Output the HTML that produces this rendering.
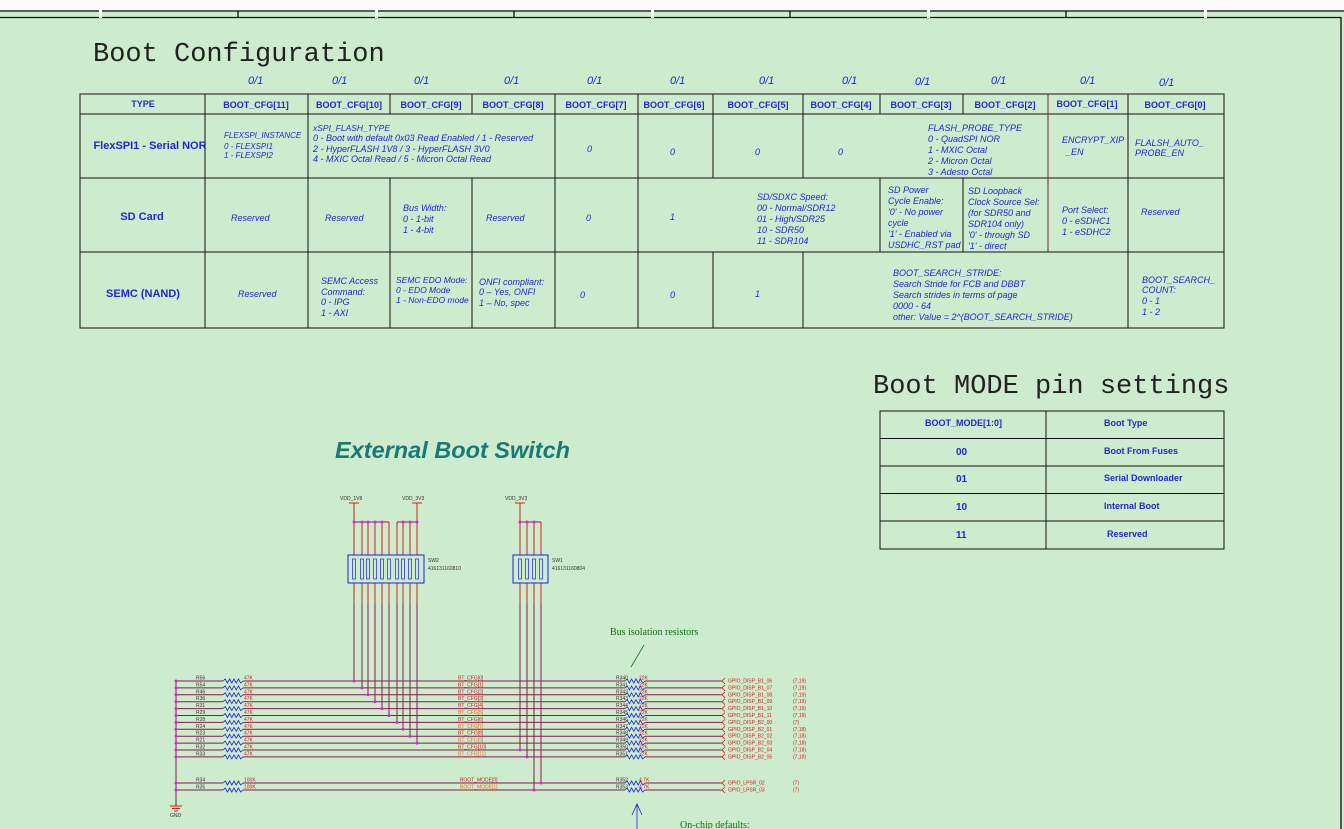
<!DOCTYPE html>
<html><head><meta charset="utf-8"><style>
html,body{margin:0;padding:0;background:#cdebcd;}
svg{display:block}
.h{font-family:"Liberation Sans",sans-serif;font-weight:bold;font-size:9px;fill:#2525d8}
.i{font-family:"Liberation Sans",sans-serif;font-style:italic;font-size:9px;fill:#2525d8}
.t{font-family:"Liberation Mono",monospace;font-size:27px;fill:#222}
.s{font-family:"Liberation Sans",sans-serif;font-size:5px;fill:#d02020}
.o{font-family:"Liberation Sans",sans-serif;font-size:5px;fill:#e07020}
.k{font-family:"Liberation Sans",sans-serif;font-size:5px;fill:#333}
</style></head><body>
<svg id="s" width="1344" height="829" xmlns="http://www.w3.org/2000/svg">
<rect x="0" y="0" width="1344" height="10" fill="#fafafa"/>
<g stroke="#111" stroke-width="1.3" fill="none">
<line x1="0" y1="11" x2="1344" y2="11"/><line x1="0" y1="17.5" x2="1341" y2="17.5"/><line x1="1341" y1="17" x2="1341" y2="829"/>
<line x1="238" y1="11" x2="238" y2="17"/><line x1="514" y1="11" x2="514" y2="17"/><line x1="790" y1="11" x2="790" y2="17"/><line x1="1066" y1="11" x2="1066" y2="17"/>
</g>
<g fill="#fff"><rect x="99" y="10" width="3" height="8"/><rect x="375" y="10" width="3" height="8"/><rect x="651" y="10" width="3" height="8"/><rect x="927" y="10" width="3" height="8"/><rect x="1204" y="10" width="3" height="8"/></g>
<text class="t" x="93" y="61">Boot Configuration</text>
<text class="t" x="873" y="393">Boot MODE pin settings</text>
<text x="335" y="458" font-family="Liberation Sans,sans-serif" font-weight="bold" font-style="italic" font-size="23.5" fill="#1a7878">External Boot Switch</text>
<!-- config table -->
<g stroke="#111" stroke-width="1" fill="none">
<rect x="80" y="94" width="1144" height="234"/>
<line x1="80" y1="114" x2="1224" y2="114"/><line x1="80" y1="178" x2="1224" y2="178"/><line x1="80" y1="252" x2="1224" y2="252"/>
<line x1="205" y1="94" x2="205" y2="328"/>
<line x1="308" y1="94" x2="308" y2="328"/>
<line x1="390" y1="94" x2="390" y2="114"/><line x1="390" y1="178" x2="390" y2="328"/>
<line x1="472" y1="94" x2="472" y2="114"/><line x1="472" y1="178" x2="472" y2="328"/>
<line x1="555" y1="94" x2="555" y2="328"/>
<line x1="638" y1="94" x2="638" y2="328"/>
<line x1="713" y1="94" x2="713" y2="178"/><line x1="713" y1="252" x2="713" y2="328"/>
<line x1="803" y1="94" x2="803" y2="178"/><line x1="803" y1="252" x2="803" y2="328"/>
<line x1="880" y1="94" x2="880" y2="114"/><line x1="880" y1="178" x2="880" y2="252"/>
<line x1="963" y1="94" x2="963" y2="114"/><line x1="963" y1="178" x2="963" y2="252"/>
<line x1="1048" y1="94" x2="1048" y2="252" stroke="#802030"/>
<line x1="1128" y1="94" x2="1128" y2="328"/>
</g>
<g>
<text x="248" y="84" class="i" style="font-size:11px">0/1</text><text x="332" y="84" class="i" style="font-size:11px">0/1</text><text x="414" y="84" class="i" style="font-size:11px">0/1</text><text x="504" y="84" class="i" style="font-size:11px">0/1</text><text x="587" y="84" class="i" style="font-size:11px">0/1</text><text x="670" y="84" class="i" style="font-size:11px">0/1</text><text x="759" y="84" class="i" style="font-size:11px">0/1</text><text x="842" y="84" class="i" style="font-size:11px">0/1</text><text x="915" y="85" class="i" style="font-size:11px">0/1</text><text x="991" y="84" class="i" style="font-size:11px">0/1</text><text x="1080" y="84" class="i" style="font-size:11px">0/1</text><text x="1159" y="86" class="i" style="font-size:11px">0/1</text>
</g>
<g class="h" text-anchor="middle">
<text x="143" y="107">TYPE</text><text x="256" y="108">BOOT_CFG[11]</text><text x="349" y="108">BOOT_CFG[10]</text><text x="431" y="108">BOOT_CFG[9]</text><text x="513" y="108">BOOT_CFG[8]</text><text x="596" y="108">BOOT_CFG[7]</text><text x="674" y="108">BOOT_CFG[6]</text><text x="758" y="108">BOOT_CFG[5]</text><text x="841" y="108">BOOT_CFG[4]</text><text x="921" y="108">BOOT_CFG[3]</text><text x="1005" y="108">BOOT_CFG[2]</text><text x="1087" y="107">BOOT_CFG[1]</text><text x="1175" y="108">BOOT_CFG[0]</text>
<text x="150" y="149" style="font-size:11px">FlexSPI1 - Serial NOR</text>
<text x="142" y="220" style="font-size:11px">SD Card</text>
<text x="143" y="297" style="font-size:11px">SEMC (NAND)</text>
</g>
<g class="i">
<text x="224" y="138" style="font-size:8px">FLEXSPI_INSTANCE</text><text x="224" y="149" style="font-size:8px">0 - FLEXSPI1</text><text x="224" y="158" style="font-size:8px">1 - FLEXSPI2</text>
<text x="313" y="131" style="font-size:8.5px">xSPI_FLASH_TYPE</text><text x="313" y="141">0 - Boot with default 0x03 Read Enabled / 1 - Reserved</text><text x="313" y="152">2 - HyperFLASH 1V8 / 3 - HyperFLASH 3V0</text><text x="313" y="162">4 - MXIC Octal Read / 5 - Micron Octal Read</text>
<text x="587" y="152">0</text><text x="670" y="155">0</text><text x="755" y="155">0</text><text x="838" y="155">0</text>
<text x="928" y="131">FLASH_PROBE_TYPE</text><text x="928" y="142">0 - QuadSPI NOR</text><text x="928" y="153">1 - MXIC Octal</text><text x="928" y="164">2 - Micron Octal</text><text x="928" y="175">3 - Adesto Octal</text>
<text x="1062" y="143">ENCRYPT_XIP</text><text x="1066" y="155">_EN</text>
<text x="1135" y="146">FLALSH_AUTO_</text><text x="1135" y="156">PROBE_EN</text>
<text x="231" y="221">Reserved</text><text x="325" y="221">Reserved</text>
<text x="403" y="211">Bus Width:</text><text x="403" y="222">0 - 1-bit</text><text x="403" y="233">1 - 4-bit</text>
<text x="486" y="221">Reserved</text><text x="586" y="221">0</text><text x="670" y="220">1</text>
<text x="757" y="200">SD/SDXC Speed:</text><text x="757" y="211">00 - Normal/SDR12</text><text x="757" y="222">01 - High/SDR25</text><text x="757" y="233">10 - SDR50</text><text x="757" y="244">11 - SDR104</text>
<text x="888" y="193">SD Power</text><text x="888" y="204">Cycle Enable:</text><text x="888" y="215">'0' - No power</text><text x="888" y="226">cycle</text><text x="888" y="237">'1' - Enabled via</text><text x="888" y="248">USDHC_RST pad</text>
<text x="968" y="194">SD Loopback</text><text x="968" y="205">Clock Source Sel:</text><text x="968" y="216">(for SDR50 and</text><text x="968" y="227">SDR104 only)</text><text x="968" y="238">'0' - through SD</text><text x="968" y="249">'1' -  direct</text>
<text x="1062" y="213">Port Select:</text><text x="1062" y="224">0 - eSDHC1</text><text x="1062" y="235">1 - eSDHC2</text>
<text x="1141" y="215">Reserved</text>
<text x="238" y="297">Reserved</text>
<text x="321" y="284">SEMC Access</text><text x="321" y="295">Command:</text><text x="321" y="305">0 - IPG</text><text x="321" y="316">1 - AXI</text>
<text x="396" y="283" style="font-size:8.5px">SEMC EDO Mode:</text><text x="396" y="293" style="font-size:8.5px">0 - EDO Mode</text><text x="396" y="303" style="font-size:8.5px">1 - Non-EDO mode</text>
<text x="479" y="285">ONFI compliant:</text><text x="479" y="295">0 – Yes, ONFI</text><text x="479" y="306">1 – No, spec</text>
<text x="580" y="298">0</text><text x="670" y="298">0</text><text x="755" y="297">1</text>
<text x="893" y="276">BOOT_SEARCH_STRIDE:</text><text x="893" y="287">Search Stride for FCB and DBBT</text><text x="893" y="298">Search strides in terms of page</text><text x="893" y="309">0000 - 64</text><text x="893" y="320">other: Value = 2^(BOOT_SEARCH_STRIDE)</text>
<text x="1142" y="283">BOOT_SEARCH_</text><text x="1142" y="293">COUNT:</text><text x="1142" y="304">0 - 1</text><text x="1142" y="315">1 - 2</text>
</g>
<!-- boot mode table -->
<g stroke="#111" stroke-width="1" fill="none">
<rect x="880" y="411" width="344" height="138"/>
<line x1="1046" y1="411" x2="1046" y2="549"/>
<line x1="880" y1="438.5" x2="1224" y2="438.5"/><line x1="880" y1="466" x2="1224" y2="466"/><line x1="880" y1="493.5" x2="1224" y2="493.5"/><line x1="880" y1="521" x2="1224" y2="521"/>
</g>
<g class="h">
<text x="925" y="426">BOOT_MODE[1:0]</text><text x="1104" y="426">Boot Type</text>
<text x="956" y="455" style="font-size:10px">00</text><text x="1104" y="454">Boot From Fuses</text>
<text x="956" y="482" style="font-size:10px">01</text><text x="1104" y="481">Serial Downloader</text>
<text x="956" y="510" style="font-size:10px">10</text><text x="1104" y="509">Internal Boot</text>
<text x="956" y="538" style="font-size:10px">11</text><text x="1107" y="537">Reserved</text>
</g>
<g id="sch"></g>
<text x="610" y="635" font-family="Liberation Serif,serif" font-size="10" fill="#107010">Bus isolation resistors</text>
<line x1="644" y1="645" x2="631" y2="667" stroke="#107010" stroke-width="0.8"/>
<text x="680" y="828" font-family="Liberation Serif,serif" font-size="10" fill="#107010">On-chip defaults:</text>
<g stroke="#2020e0" stroke-width="0.8" fill="none"><line x1="637" y1="804" x2="637" y2="829"/><polyline points="632,815 637,804 642,815"/></g>
</svg>
<script>
var g=document.getElementById('sch'),h='';
var W='#8a1a50';
function L(x1,y1,x2,y2,c,w){h+='<line x1="'+x1+'" y1="'+y1+'" x2="'+x2+'" y2="'+y2+'" stroke="'+(c||W)+'" stroke-width="'+(w||1)+'"/>';}
function D(x,y){h+='<circle cx="'+x+'" cy="'+y+'" r="1.5" fill="#e020e0"/>';}
function Z(x,y){var p='M'+x+','+y;for(var i=1;i<=8;i++)p+=' L'+(x+i*2.2)+','+(y+(i%2?-2:2));h+='<path d="'+p+' L'+(x+20)+','+y+'" stroke="#2020e0" stroke-width="0.8" fill="none"/>';}
function T(x,y,t,c){h+='<text x="'+x+'" y="'+y+'" class="'+c+'">'+t+'</text>';}
var ys=[];for(var i=0;i<12;i++)ys.push(681+i*6.9);ys.push(783,790);
var rn=['R56','R54','R46','R36','R31','R29','R28','R24','R23','R21','R32','R33','R34','R35'];
var gp=['GPIO_DISP_B1_06','GPIO_DISP_B1_07','GPIO_DISP_B1_08','GPIO_DISP_B1_09','GPIO_DISP_B1_10','GPIO_DISP_B1_11','GPIO_DISP_B2_00','GPIO_DISP_B2_01','GPIO_DISP_B2_02','GPIO_DISP_B2_03','GPIO_DISP_B2_04','GPIO_DISP_B2_05','GPIO_LPSR_02','GPIO_LPSR_03'];
var rf=['(7,19)','(7,19)','(7,19)','(7,19)','(7,19)','(7,19)','(7)','(7,18)','(7,18)','(7,18)','(7,18)','(7,18)','(7)','(7)'];
L(176,681,176,806);
h+='<g stroke="#d02020" stroke-width="1"><line x1="170" y1="806" x2="182" y2="806"/><line x1="172" y1="808.5" x2="180" y2="808.5"/><line x1="174" y1="811" x2="178" y2="811"/></g>';
T(170,817,'GND','k');
ys.forEach(function(y,i){
 L(176,y,223,y);Z(223,y);L(243,y,625,y);Z(625,y);L(645,y,722,y);
 D(176,y);T(196,y-1.5,rn[i],'k');T(244,y-1.5,i<12?'47K':'100K','s');
 T(616,y-1.5,'R3'+(i+40),'k');T(639,y-1.5,i<12?'22K':'4.7K','s');
 h+='<polyline points="725,'+(y-3)+' 722,'+y+' 725,'+(y+3)+'" stroke="#d02020" fill="none" stroke-width="0.8"/>';
 T(728,y+1.5,gp[i],'s');T(793,y+1.5,rf[i],'s');
 var lab=i<12?'BT_CFG['+i+']':'BOOT_MODE['+(i-12)+']';
 T(i<12?458:460,y-1.5,lab,(i%2&&i>3)||i==13?'o':'s');
});
var px=[354,362,368,375,382,389,397,403,410,417];
L(354,522,389,522);L(397,522,417,522);
L(354,503,354,522,'#d02020');L(417,503,417,522,'#d02020');
L(349,503,359,503,'#d02020');L(412,503,422,503,'#d02020');
T(340,500,'VDD_1V8','k');T(402,500,'VDD_3V3','k');
px.forEach(function(x,i){L(x,522,x,555,'#d02020');L(x,583,x,604,'#d02020');L(x,604,x,ys[i]);D(x,ys[i]);if(i!=5&&i!=6)D(x,522);
 h+='<rect x="'+(x-1.5)+'" y="559" width="3" height="20" fill="none" stroke="#2020e0" stroke-width="0.7"/>';});
h+='<rect x="348" y="555" width="76" height="28" fill="none" stroke="#2020e0" stroke-width="1"/>';
T(428,562,'SW2','k');T(428,570,'416131160810','k');
var qx=[520,527,534,541],qd=[ys[10],ys[11],790,783];
L(520,522,541,522);L(520,503,520,522,'#d02020');L(515,503,525,503,'#d02020');T(505,500,'VDD_3V3','k');
qx.forEach(function(x,i){L(x,522,x,555,'#d02020');L(x,583,x,604,'#d02020');L(x,604,x,qd[i]);D(x,qd[i]);if(i<3)D(x,522);
 h+='<rect x="'+(x-1.5)+'" y="559" width="3" height="20" fill="none" stroke="#2020e0" stroke-width="0.7"/>';});
h+='<rect x="513" y="555" width="35" height="28" fill="none" stroke="#2020e0" stroke-width="1"/>';
T(552,562,'SW1','k');T(552,570,'416131160804','k');
g.innerHTML=h;
</script>
</body></html>
